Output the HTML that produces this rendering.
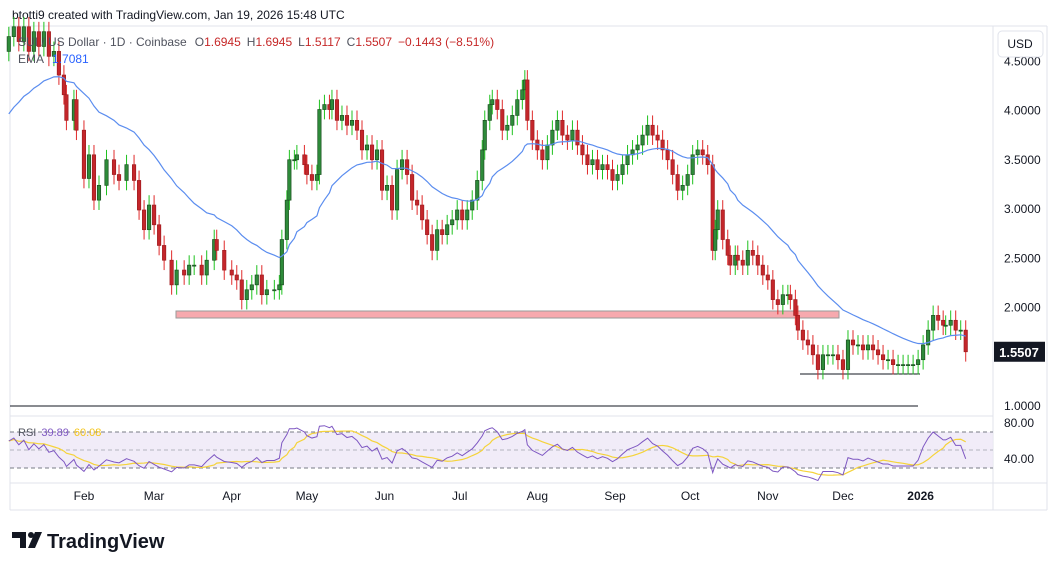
<!DOCTYPE html>
<html><head><meta charset="utf-8">
<style>
body{margin:0;width:1057px;height:571px;background:#fff;overflow:hidden;font-family:"Liberation Sans",sans-serif;}
svg{position:absolute;left:0;top:0}
</style></head>
<body>
<svg id="c" width="1057" height="571" font-family="Liberation Sans, sans-serif"></svg>
<script>
const days=[1,3,5,7,9,11,13,15,17,19,21,23,24,27,28,31,33,35,37,40,43,45,48,51,53,55,57,59,61,63,66,68,71,73,75,78,80,83,84,87,90,92,94,96,98,100,102,104,107,109,110,112,113,115,116,119,120,122,124,125,127,129,130,132,134,136,138,140,142,144,146,148,150,152,154,156,158,160,162,164,166,168,170,172,174,176,178,180,182,184,186,188,190,191,193,194,196,198,200,202,204,206,207,208,210,212,214,216,218,220,222,224,226,228,230,232,234,236,238,240,242,244,246,248,250,252,254,256,258,260,262,264,266,268,270,272,274,276,278,280,282,283,284,286,288,289,291,292,294,296,298,300,302,304,306,308,310,312,313,315,316,318,320,322,324,326,328,330,332,334,336,338,340,342,344,346,348,350,352,354,356,358,360,362,364,366,368,370,372,374,375,377,379,381,383];
const closes=[4.75,4.85,4.7,4.85,4.6,4.8,4.65,4.8,4.55,4.6,4.36,4.16,3.9,4.11,3.8,3.31,3.55,3.09,3.24,3.5,3.35,3.29,3.45,3.29,2.99,2.79,3.04,2.84,2.63,2.48,2.23,2.38,2.33,2.43,2.43,2.33,2.48,2.69,2.58,2.38,2.33,2.28,2.08,2.18,2.23,2.33,2.13,2.18,2.18,2.23,2.69,3.09,3.5,3.5,3.55,3.45,3.35,3.29,3.35,4.01,4.06,4.01,4.11,3.9,3.95,3.85,3.9,3.8,3.6,3.65,3.5,3.6,3.19,3.24,2.99,3.4,3.5,3.35,3.09,3.04,2.89,2.74,2.58,2.79,2.74,2.84,2.89,2.99,2.89,2.99,3.09,3.29,3.6,3.9,4.06,4.11,4.01,3.8,3.85,3.95,4.11,4.21,4.31,3.9,3.7,3.6,3.5,3.65,3.8,3.9,3.75,3.7,3.8,3.65,3.55,3.45,3.5,3.4,3.45,3.4,3.29,3.35,3.45,3.55,3.6,3.65,3.75,3.85,3.75,3.7,3.6,3.5,3.35,3.19,3.24,3.35,3.55,3.6,3.55,3.45,2.58,2.79,2.99,2.69,2.53,2.43,2.53,2.48,2.43,2.58,2.53,2.43,2.33,2.28,2.08,2.03,2.13,2.13,2.08,1.92,1.77,1.67,1.62,1.52,1.37,1.52,1.52,1.52,1.47,1.37,1.67,1.62,1.62,1.57,1.62,1.57,1.52,1.47,1.47,1.42,1.42,1.42,1.42,1.42,1.47,1.62,1.77,1.92,1.87,1.82,1.82,1.87,1.77,1.77,1.5507];
const openStart=4.6, emaStart=3.9;
const priceTicks=[4.5,4.0,3.5,3.0,2.5,2.0,1.0];
const monthLabels=["Feb","Mar","Apr","May","Jun","Jul","Aug","Sep","Oct","Nov","Dec","2026"];
const monthDays=[31,59,90,120,151,181,212,243,273,304,334,365];
const rsiTicks=[80,40];

const S=document.getElementById('c');const NS='http://www.w3.org/2000/svg';
function mk(t,a,p){const e=document.createElementNS(NS,t);for(const k in a)e.setAttribute(k,a[k]);(p||S).appendChild(e);return e;}
const X=d=>6.3+d*2.505;
const Y=p=>406-(p-1)*98.5;
const RY=r=>459-(r-40)*0.9;

let e;
e=mk('line',{x1:10,y1:26,x2:1047,y2:26,stroke:'#e0e3eb'});
e=mk('line',{x1:993,y1:26,x2:993,y2:510,stroke:'#e0e3eb'});
e=mk('line',{x1:10,y1:416,x2:993,y2:416,stroke:'#e0e3eb'});
e=mk('line',{x1:10,y1:483,x2:1047,y2:483,stroke:'#e0e3eb'});
e=mk('line',{x1:10,y1:510,x2:1047,y2:510,stroke:'#e0e3eb'});
e=mk('line',{x1:1047,y1:26,x2:1047,y2:510,stroke:'#e0e3eb'});
e=mk('line',{x1:10,y1:26,x2:10,y2:510,stroke:'#e0e3eb'});
let t=mk('text',{x:12,y:19,'font-size':12,fill:'#131722'});t.textContent='btotti9 created with TradingView.com, Jan 19, 2026 15:48 UTC';


priceTicks.forEach(p=>{const tt=mk('text',{x:1004,y:Y(p)+4,'font-size':12,fill:'#131722'});tt.textContent=p.toFixed(4);

});
monthLabels.forEach((m,i)=>{const tt=mk('text',{x:X(monthDays[i]),y:500,'font-size':12,fill:'#131722','text-anchor':'middle','font-weight':m==='2026'?'bold':'normal'});tt.textContent=m;

});

e=mk('rect',{x:176,y:311,width:663,height:7,fill:'#f7a9ae',stroke:'#9a9a9a','stroke-width':1});

e=mk('line',{x1:800,y1:374,x2:920,y2:374,stroke:'#131722','stroke-width':1});

e=mk('line',{x1:10,y1:406,x2:918,y2:406,stroke:'#131722','stroke-width':1});


const cg=mk('g',{});
const W=3.4,wick=0.1;
closes.forEach((c,i)=>{const o=i?closes[i-1]:openStart;const up=c>=o;const x=X(days[i]);
 const hi=Math.max(o,c)+wick,lo=Math.min(o,c)-wick;
 const w=mk('line',{x1:x,x2:x,y1:Y(hi),y2:Y(lo),stroke:up?'#1fc21f':'#e02a2a'},cg);
 
 
 const b=mk('rect',{x:x-W/2,y:Y(Math.max(o,c)),width:W,height:Math.max(1,Math.abs(Y(o)-Y(c))),fill:up?'#2e8b3a':'#c4262b',stroke:up?'#1b5020':'#a01d20','stroke-width':0.7},cg);
 
 });

let ema=emaStart,pts=[];const k=2/(25+1);
closes.forEach((c,i)=>{ema=ema+k*(c-ema);pts.push(X(days[i])+','+Y(ema));});
e=mk('polyline',{points:pts.join(' '),fill:'none',stroke:'#5b8def','stroke-width':1.2});


t=mk('text',{x:18,y:46,'font-size':12,fill:'#50535e'});
t.innerHTML='SUI / US Dollar · 1D · Coinbase<tspan dx="8">O</tspan><tspan fill="#c62828">1.6945</tspan><tspan dx="6">H</tspan><tspan fill="#c62828">1.6945</tspan><tspan dx="6">L</tspan><tspan fill="#c62828">1.5117</tspan><tspan dx="6">C</tspan><tspan fill="#c62828">1.5507</tspan><tspan dx="6" fill="#c62828">−0.1443 (−8.51%)</tspan>';

t=mk('text',{x:18,y:63,'font-size':12,fill:'#50535e'});t.innerHTML='EMA<tspan dx="8" fill="#2962ff">1.7081</tspan>';


e=mk('rect',{x:998,y:31,width:45,height:26,rx:4,fill:'#fff',stroke:'#e0e3eb'});

t=mk('text',{x:1020,y:48,'font-size':12,fill:'#131722','text-anchor':'middle'});t.textContent='USD';

const last=closes[closes.length-1];
e=mk('rect',{x:994,y:Y(last)-10,width:51,height:20,fill:'#131722'});

t=mk('text',{x:1019,y:Y(last)+5,'font-size':13,'font-weight':'bold',fill:'#fff','text-anchor':'middle'});t.textContent=last.toFixed(4);


e=mk('rect',{x:10,y:RY(70),width:983,height:RY(30)-RY(70),fill:'#ede7f6',opacity:0.8});

[70,50,30].forEach(v=>{const l=mk('line',{x1:10,x2:993,y1:RY(v),y2:RY(v),stroke:v===50?'#b2b5be':'#787b86','stroke-dasharray':'4,3'});

});
rsiTicks.forEach(v=>{const tt=mk('text',{x:1004,y:RY(v)+4,'font-size':12,fill:'#131722'});tt.textContent=v.toFixed(2);

});
const N=11;let ag=0,al=0,prev=openStart,rsi=[];
closes.forEach((c,i)=>{const ch=c-prev;prev=c;const g=Math.max(ch,0),l=Math.max(-ch,0);
 if(i===0){ag=0.06;al=0.05;}ag=(ag*(N-1)+g)/N;al=(al*(N-1)+l)/N;rsi.push(100-100/(1+ag/Math.max(al,1e-6)));});
const rp=rsi.map((r,i)=>X(days[i])+','+RY(r)).join(' ');
const M=8;
const ma=rsi.map((r,i)=>{const s=rsi.slice(Math.max(0,i-M+1),i+1);return X(days[i])+','+RY(s.reduce((a,b)=>a+b,0)/s.length);}).join(' ');
e=mk('polyline',{points:ma,fill:'none',stroke:'#f5d33a','stroke-width':1.2});

e=mk('polyline',{points:rp,fill:'none',stroke:'#7e57c2','stroke-width':1});

t=mk('text',{x:18,y:436,'font-size':11,fill:'#50535e'});t.innerHTML='RSI<tspan dx="5" fill="#7e57c2">39.89</tspan><tspan dx="5" fill="#f5c518">60.08</tspan>';


// logo mark
const lg=mk('g',{fill:'#131722'});
mk('path',{d:'M12 532 h14 v16 h-6 v-10 h-8 z'},lg);
mk('circle',{cx:31,cy:535,r:3},lg);
mk('path',{d:'M35 532 h7 l-7 16 h-7 z'},lg);
t=mk('text',{x:47,y:548,'font-size':20,'font-weight':'bold',fill:'#131722'});t.textContent='TradingView';

</script>
</body></html>
